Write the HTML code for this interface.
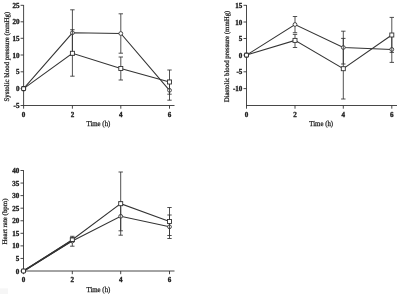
<!DOCTYPE html>
<html><head><meta charset="utf-8"><title>Blood pressure and heart rate</title>
<style>
html,body{margin:0;padding:0;background:#fff;}
svg{display:block;font-family:"Liberation Serif",serif;fill:#222;text-rendering:geometricPrecision;}
text{stroke:#222;stroke-width:0.26px;}
text.b{font-weight:bold;stroke-width:0.36px;}
</style></head><body>
<svg width="400" height="294" viewBox="0 0 400 294">
<rect width="400" height="294" fill="#fff"/>
<line x1="23.60" y1="5.00" x2="23.60" y2="105.90" stroke="#333" stroke-width="0.9"/>
<line x1="23.15" y1="105.50" x2="174.50" y2="105.50" stroke="#333" stroke-width="0.9"/>
<line x1="20.60" y1="5.30" x2="23.60" y2="5.30" stroke="#333" stroke-width="0.9"/>
<text transform="translate(19.50 7.90) scale(0.92 1)" text-anchor="end" font-size="7.7" class="b">25</text>
<line x1="20.60" y1="21.80" x2="23.60" y2="21.80" stroke="#333" stroke-width="0.9"/>
<text transform="translate(19.50 24.40) scale(0.92 1)" text-anchor="end" font-size="7.7" class="b">20</text>
<line x1="20.60" y1="38.30" x2="23.60" y2="38.30" stroke="#333" stroke-width="0.9"/>
<text transform="translate(19.50 40.90) scale(0.92 1)" text-anchor="end" font-size="7.7" class="b">15</text>
<line x1="20.60" y1="55.00" x2="23.60" y2="55.00" stroke="#333" stroke-width="0.9"/>
<text transform="translate(19.50 57.60) scale(0.92 1)" text-anchor="end" font-size="7.7" class="b">10</text>
<line x1="20.60" y1="71.80" x2="23.60" y2="71.80" stroke="#333" stroke-width="0.9"/>
<text transform="translate(19.50 74.40) scale(0.92 1)" text-anchor="end" font-size="7.7" class="b">5</text>
<line x1="20.60" y1="88.60" x2="23.60" y2="88.60" stroke="#333" stroke-width="0.9"/>
<text transform="translate(19.50 91.20) scale(0.92 1)" text-anchor="end" font-size="7.7" class="b">0</text>
<line x1="20.60" y1="105.50" x2="23.60" y2="105.50" stroke="#333" stroke-width="0.9"/>
<text transform="translate(19.50 108.10) scale(0.92 1)" text-anchor="end" font-size="7.7" class="b">-5</text>
<line x1="23.60" y1="105.50" x2="23.60" y2="108.70" stroke="#333" stroke-width="0.9"/>
<text transform="translate(23.60 116.80) scale(0.92 1)" text-anchor="middle" font-size="7.7" class="b">0</text>
<line x1="72.40" y1="105.50" x2="72.40" y2="108.70" stroke="#333" stroke-width="0.9"/>
<text transform="translate(72.40 116.80) scale(0.92 1)" text-anchor="middle" font-size="7.7" class="b">2</text>
<line x1="120.80" y1="105.50" x2="120.80" y2="108.70" stroke="#333" stroke-width="0.9"/>
<text transform="translate(120.80 116.80) scale(0.92 1)" text-anchor="middle" font-size="7.7" class="b">4</text>
<line x1="169.50" y1="105.50" x2="169.50" y2="108.70" stroke="#333" stroke-width="0.9"/>
<text transform="translate(169.50 116.80) scale(0.92 1)" text-anchor="middle" font-size="7.7" class="b">6</text>
<text transform="translate(98.40 126.10) scale(0.9 1)" text-anchor="middle" font-size="7.6">Time (h)</text>
<text transform="translate(8.60 56.65) rotate(-90) scale(1.0 1)" text-anchor="middle" font-size="6.9">Systolic blood pressure (mmHg)</text>
<path d="M23.60 88.60 L72.40 32.80 L120.80 33.50 L169.50 90.30" fill="none" stroke="#333" stroke-width="1.05"/>
<circle cx="23.60" cy="88.60" r="1.9" fill="#fff" stroke="#333" stroke-width="0.9"/>
<circle cx="72.40" cy="32.80" r="1.9" fill="#fff" stroke="#333" stroke-width="0.9"/>
<circle cx="120.80" cy="33.50" r="1.9" fill="#fff" stroke="#333" stroke-width="0.9"/>
<circle cx="169.50" cy="90.30" r="1.9" fill="#fff" stroke="#333" stroke-width="0.9"/>
<line x1="72.40" y1="9.80" x2="72.40" y2="30.80" stroke="#333" stroke-width="0.85"/>
<line x1="72.40" y1="34.80" x2="72.40" y2="55.20" stroke="#333" stroke-width="0.85"/>
<line x1="70.20" y1="9.80" x2="74.60" y2="9.80" stroke="#333" stroke-width="0.85"/>
<line x1="70.20" y1="55.20" x2="74.60" y2="55.20" stroke="#333" stroke-width="0.85"/>
<line x1="120.80" y1="13.80" x2="120.80" y2="31.50" stroke="#333" stroke-width="0.85"/>
<line x1="120.80" y1="35.50" x2="120.80" y2="53.20" stroke="#333" stroke-width="0.85"/>
<line x1="118.60" y1="13.80" x2="123.00" y2="13.80" stroke="#333" stroke-width="0.85"/>
<line x1="118.60" y1="53.20" x2="123.00" y2="53.20" stroke="#333" stroke-width="0.85"/>
<line x1="169.50" y1="80.30" x2="169.50" y2="88.30" stroke="#333" stroke-width="0.85"/>
<line x1="169.50" y1="92.30" x2="169.50" y2="100.20" stroke="#333" stroke-width="0.85"/>
<line x1="167.30" y1="80.30" x2="171.70" y2="80.30" stroke="#333" stroke-width="0.85"/>
<line x1="167.30" y1="100.20" x2="171.70" y2="100.20" stroke="#333" stroke-width="0.85"/>
<path d="M23.60 88.60 L72.40 53.30 L120.80 68.50 L169.50 82.00" fill="none" stroke="#333" stroke-width="1.05"/>
<rect x="21.60" y="86.60" width="4.0" height="4.0" rx="0.9" fill="#fff" stroke="#333" stroke-width="1.05"/>
<rect x="70.40" y="51.30" width="4.0" height="4.0" fill="#fff" stroke="#333" stroke-width="0.9"/>
<rect x="118.80" y="66.50" width="4.0" height="4.0" fill="#fff" stroke="#333" stroke-width="0.9"/>
<rect x="167.50" y="80.00" width="4.0" height="4.0" fill="#fff" stroke="#333" stroke-width="0.9"/>
<line x1="72.40" y1="29.70" x2="72.40" y2="51.30" stroke="#333" stroke-width="0.85"/>
<line x1="72.40" y1="55.30" x2="72.40" y2="76.20" stroke="#333" stroke-width="0.85"/>
<line x1="70.20" y1="29.70" x2="74.60" y2="29.70" stroke="#333" stroke-width="0.85"/>
<line x1="70.20" y1="76.20" x2="74.60" y2="76.20" stroke="#333" stroke-width="0.85"/>
<line x1="120.80" y1="57.00" x2="120.80" y2="66.50" stroke="#333" stroke-width="0.85"/>
<line x1="120.80" y1="70.50" x2="120.80" y2="80.00" stroke="#333" stroke-width="0.85"/>
<line x1="118.60" y1="57.00" x2="123.00" y2="57.00" stroke="#333" stroke-width="0.85"/>
<line x1="118.60" y1="80.00" x2="123.00" y2="80.00" stroke="#333" stroke-width="0.85"/>
<line x1="169.50" y1="70.00" x2="169.50" y2="80.00" stroke="#333" stroke-width="0.85"/>
<line x1="169.50" y1="84.00" x2="169.50" y2="94.20" stroke="#333" stroke-width="0.85"/>
<line x1="167.30" y1="70.00" x2="171.70" y2="70.00" stroke="#333" stroke-width="0.85"/>
<line x1="167.30" y1="94.20" x2="171.70" y2="94.20" stroke="#333" stroke-width="0.85"/>
<line x1="246.50" y1="5.00" x2="246.50" y2="105.90" stroke="#333" stroke-width="0.9"/>
<line x1="246.05" y1="105.50" x2="397.00" y2="105.50" stroke="#333" stroke-width="0.9"/>
<line x1="243.50" y1="5.30" x2="246.50" y2="5.30" stroke="#333" stroke-width="0.9"/>
<text transform="translate(242.40 7.90) scale(0.92 1)" text-anchor="end" font-size="7.7" class="b">15</text>
<line x1="243.50" y1="22.00" x2="246.50" y2="22.00" stroke="#333" stroke-width="0.9"/>
<text transform="translate(242.40 24.60) scale(0.92 1)" text-anchor="end" font-size="7.7" class="b">10</text>
<line x1="243.50" y1="38.50" x2="246.50" y2="38.50" stroke="#333" stroke-width="0.9"/>
<text transform="translate(242.40 41.10) scale(0.92 1)" text-anchor="end" font-size="7.7" class="b">5</text>
<line x1="243.50" y1="55.10" x2="246.50" y2="55.10" stroke="#333" stroke-width="0.9"/>
<text transform="translate(242.40 57.70) scale(0.92 1)" text-anchor="end" font-size="7.7" class="b">0</text>
<line x1="243.50" y1="71.80" x2="246.50" y2="71.80" stroke="#333" stroke-width="0.9"/>
<text transform="translate(242.40 74.40) scale(0.92 1)" text-anchor="end" font-size="7.7" class="b">-5</text>
<line x1="243.50" y1="88.60" x2="246.50" y2="88.60" stroke="#333" stroke-width="0.9"/>
<text transform="translate(242.40 91.20) scale(0.92 1)" text-anchor="end" font-size="7.7" class="b">-10</text>
<line x1="246.50" y1="105.50" x2="246.50" y2="108.70" stroke="#333" stroke-width="0.9"/>
<text transform="translate(246.50 116.80) scale(0.92 1)" text-anchor="middle" font-size="7.7" class="b">0</text>
<line x1="295.00" y1="105.50" x2="295.00" y2="108.70" stroke="#333" stroke-width="0.9"/>
<text transform="translate(295.00 116.80) scale(0.92 1)" text-anchor="middle" font-size="7.7" class="b">2</text>
<line x1="343.30" y1="105.50" x2="343.30" y2="108.70" stroke="#333" stroke-width="0.9"/>
<text transform="translate(343.30 116.80) scale(0.92 1)" text-anchor="middle" font-size="7.7" class="b">4</text>
<line x1="391.80" y1="105.50" x2="391.80" y2="108.70" stroke="#333" stroke-width="0.9"/>
<text transform="translate(391.80 116.80) scale(0.92 1)" text-anchor="middle" font-size="7.7" class="b">6</text>
<text transform="translate(321.20 126.10) scale(0.9 1)" text-anchor="middle" font-size="7.6">Time (h)</text>
<text transform="translate(229.20 56.50) rotate(-90) scale(0.9925 1)" text-anchor="middle" font-size="6.9">Diastolic blood pressure (mmHg)</text>
<path d="M246.50 55.10 L295.00 24.50 L343.30 47.50 L391.80 49.40" fill="none" stroke="#333" stroke-width="1.05"/>
<circle cx="246.50" cy="55.10" r="1.9" fill="#fff" stroke="#333" stroke-width="0.9"/>
<circle cx="295.00" cy="24.50" r="1.9" fill="#fff" stroke="#333" stroke-width="0.9"/>
<circle cx="343.30" cy="47.50" r="1.9" fill="#fff" stroke="#333" stroke-width="0.9"/>
<circle cx="391.80" cy="49.40" r="1.9" fill="#fff" stroke="#333" stroke-width="0.9"/>
<line x1="295.00" y1="16.50" x2="295.00" y2="22.50" stroke="#333" stroke-width="0.85"/>
<line x1="295.00" y1="26.50" x2="295.00" y2="32.70" stroke="#333" stroke-width="0.85"/>
<line x1="292.80" y1="16.50" x2="297.20" y2="16.50" stroke="#333" stroke-width="0.85"/>
<line x1="292.80" y1="32.70" x2="297.20" y2="32.70" stroke="#333" stroke-width="0.85"/>
<line x1="343.30" y1="31.20" x2="343.30" y2="45.50" stroke="#333" stroke-width="0.85"/>
<line x1="343.30" y1="49.50" x2="343.30" y2="64.00" stroke="#333" stroke-width="0.85"/>
<line x1="341.10" y1="31.20" x2="345.50" y2="31.20" stroke="#333" stroke-width="0.85"/>
<line x1="341.10" y1="64.00" x2="345.50" y2="64.00" stroke="#333" stroke-width="0.85"/>
<line x1="391.80" y1="36.40" x2="391.80" y2="47.40" stroke="#333" stroke-width="0.85"/>
<line x1="391.80" y1="51.40" x2="391.80" y2="62.40" stroke="#333" stroke-width="0.85"/>
<line x1="389.60" y1="36.40" x2="394.00" y2="36.40" stroke="#333" stroke-width="0.85"/>
<line x1="389.60" y1="62.40" x2="394.00" y2="62.40" stroke="#333" stroke-width="0.85"/>
<path d="M246.50 55.10 L295.00 40.40 L343.30 68.70 L391.80 35.00" fill="none" stroke="#333" stroke-width="1.05"/>
<rect x="244.50" y="53.10" width="4.0" height="4.0" rx="0.9" fill="#fff" stroke="#333" stroke-width="1.05"/>
<rect x="293.00" y="38.40" width="4.0" height="4.0" fill="#fff" stroke="#333" stroke-width="0.9"/>
<rect x="341.30" y="66.70" width="4.0" height="4.0" fill="#fff" stroke="#333" stroke-width="0.9"/>
<rect x="389.80" y="33.00" width="4.0" height="4.0" fill="#fff" stroke="#333" stroke-width="0.9"/>
<line x1="295.00" y1="34.40" x2="295.00" y2="38.40" stroke="#333" stroke-width="0.85"/>
<line x1="295.00" y1="42.40" x2="295.00" y2="47.50" stroke="#333" stroke-width="0.85"/>
<line x1="292.80" y1="34.40" x2="297.20" y2="34.40" stroke="#333" stroke-width="0.85"/>
<line x1="292.80" y1="47.50" x2="297.20" y2="47.50" stroke="#333" stroke-width="0.85"/>
<line x1="343.30" y1="38.40" x2="343.30" y2="66.70" stroke="#333" stroke-width="0.85"/>
<line x1="343.30" y1="70.70" x2="343.30" y2="99.00" stroke="#333" stroke-width="0.85"/>
<line x1="341.10" y1="38.40" x2="345.50" y2="38.40" stroke="#333" stroke-width="0.85"/>
<line x1="341.10" y1="99.00" x2="345.50" y2="99.00" stroke="#333" stroke-width="0.85"/>
<line x1="391.80" y1="17.40" x2="391.80" y2="33.00" stroke="#333" stroke-width="0.85"/>
<line x1="391.80" y1="37.00" x2="391.80" y2="52.40" stroke="#333" stroke-width="0.85"/>
<line x1="389.60" y1="17.40" x2="394.00" y2="17.40" stroke="#333" stroke-width="0.85"/>
<line x1="389.60" y1="52.40" x2="394.00" y2="52.40" stroke="#333" stroke-width="0.85"/>
<line x1="23.60" y1="271.00" x2="72.40" y2="240.35" stroke="#333" stroke-width="1.5"/>
<rect x="0" y="288.4" width="8" height="5.6" fill="#f6f6f6"/>
<line x1="23.50" y1="170.20" x2="23.50" y2="271.40" stroke="#333" stroke-width="0.9"/>
<line x1="23.05" y1="271.00" x2="174.50" y2="271.00" stroke="#333" stroke-width="0.9"/>
<line x1="20.50" y1="170.50" x2="23.50" y2="170.50" stroke="#333" stroke-width="0.9"/>
<text transform="translate(19.40 173.10) scale(0.92 1)" text-anchor="end" font-size="7.7" class="b">40</text>
<line x1="20.50" y1="183.06" x2="23.50" y2="183.06" stroke="#333" stroke-width="0.9"/>
<text transform="translate(19.40 185.66) scale(0.92 1)" text-anchor="end" font-size="7.7" class="b">35</text>
<line x1="20.50" y1="195.62" x2="23.50" y2="195.62" stroke="#333" stroke-width="0.9"/>
<text transform="translate(19.40 198.22) scale(0.92 1)" text-anchor="end" font-size="7.7" class="b">30</text>
<line x1="20.50" y1="208.19" x2="23.50" y2="208.19" stroke="#333" stroke-width="0.9"/>
<text transform="translate(19.40 210.79) scale(0.92 1)" text-anchor="end" font-size="7.7" class="b">25</text>
<line x1="20.50" y1="220.75" x2="23.50" y2="220.75" stroke="#333" stroke-width="0.9"/>
<text transform="translate(19.40 223.35) scale(0.92 1)" text-anchor="end" font-size="7.7" class="b">20</text>
<line x1="20.50" y1="233.31" x2="23.50" y2="233.31" stroke="#333" stroke-width="0.9"/>
<text transform="translate(19.40 235.91) scale(0.92 1)" text-anchor="end" font-size="7.7" class="b">15</text>
<line x1="20.50" y1="245.88" x2="23.50" y2="245.88" stroke="#333" stroke-width="0.9"/>
<text transform="translate(19.40 248.47) scale(0.92 1)" text-anchor="end" font-size="7.7" class="b">10</text>
<line x1="20.50" y1="258.44" x2="23.50" y2="258.44" stroke="#333" stroke-width="0.9"/>
<text transform="translate(19.40 261.04) scale(0.92 1)" text-anchor="end" font-size="7.7" class="b">5</text>
<line x1="20.50" y1="271.00" x2="23.50" y2="271.00" stroke="#333" stroke-width="0.9"/>
<text transform="translate(19.40 273.60) scale(0.92 1)" text-anchor="end" font-size="7.7" class="b">0</text>
<line x1="23.50" y1="271.00" x2="23.50" y2="274.20" stroke="#333" stroke-width="0.9"/>
<text transform="translate(23.50 282.00) scale(0.92 1)" text-anchor="middle" font-size="7.7" class="b">0</text>
<line x1="72.30" y1="271.00" x2="72.30" y2="274.20" stroke="#333" stroke-width="0.9"/>
<text transform="translate(72.30 282.00) scale(0.92 1)" text-anchor="middle" font-size="7.7" class="b">2</text>
<line x1="120.70" y1="271.00" x2="120.70" y2="274.20" stroke="#333" stroke-width="0.9"/>
<text transform="translate(120.70 282.00) scale(0.92 1)" text-anchor="middle" font-size="7.7" class="b">4</text>
<line x1="169.50" y1="271.00" x2="169.50" y2="274.20" stroke="#333" stroke-width="0.9"/>
<text transform="translate(169.50 282.00) scale(0.92 1)" text-anchor="middle" font-size="7.7" class="b">6</text>
<text transform="translate(98.40 291.70) scale(0.9 1)" text-anchor="middle" font-size="7.6">Time (h)</text>
<text transform="translate(6.80 221.50) rotate(-90) scale(1.0 1)" text-anchor="middle" font-size="6.9">Heart rate (bpm)</text>
<path d="M23.50 271.00 L72.30 241.00 L120.70 216.30 L169.50 226.80" fill="none" stroke="#333" stroke-width="1.05"/>
<circle cx="23.50" cy="271.00" r="1.9" fill="#fff" stroke="#333" stroke-width="0.9"/>
<circle cx="72.30" cy="241.00" r="1.9" fill="#fff" stroke="#333" stroke-width="0.9"/>
<circle cx="120.70" cy="216.30" r="1.9" fill="#fff" stroke="#333" stroke-width="0.9"/>
<circle cx="169.50" cy="226.80" r="1.9" fill="#fff" stroke="#333" stroke-width="0.9"/>
<line x1="72.30" y1="236.30" x2="72.30" y2="239.00" stroke="#333" stroke-width="0.85"/>
<line x1="72.30" y1="243.00" x2="72.30" y2="246.20" stroke="#333" stroke-width="0.85"/>
<line x1="70.10" y1="236.30" x2="74.50" y2="236.30" stroke="#333" stroke-width="0.85"/>
<line x1="70.10" y1="246.20" x2="74.50" y2="246.20" stroke="#333" stroke-width="0.85"/>
<line x1="120.70" y1="201.80" x2="120.70" y2="214.30" stroke="#333" stroke-width="0.85"/>
<line x1="120.70" y1="218.30" x2="120.70" y2="230.80" stroke="#333" stroke-width="0.85"/>
<line x1="118.50" y1="201.80" x2="122.90" y2="201.80" stroke="#333" stroke-width="0.85"/>
<line x1="118.50" y1="230.80" x2="122.90" y2="230.80" stroke="#333" stroke-width="0.85"/>
<line x1="169.50" y1="215.00" x2="169.50" y2="224.80" stroke="#333" stroke-width="0.85"/>
<line x1="169.50" y1="228.80" x2="169.50" y2="238.50" stroke="#333" stroke-width="0.85"/>
<line x1="167.30" y1="215.00" x2="171.70" y2="215.00" stroke="#333" stroke-width="0.85"/>
<line x1="167.30" y1="238.50" x2="171.70" y2="238.50" stroke="#333" stroke-width="0.85"/>
<path d="M23.50 271.00 L72.30 239.70 L120.70 203.70 L169.50 221.50" fill="none" stroke="#333" stroke-width="1.05"/>
<rect x="21.50" y="269.00" width="4.0" height="4.0" rx="0.9" fill="#fff" stroke="#333" stroke-width="1.05"/>
<rect x="70.30" y="237.70" width="4.0" height="4.0" fill="#fff" stroke="#333" stroke-width="0.9"/>
<rect x="118.70" y="201.70" width="4.0" height="4.0" fill="#fff" stroke="#333" stroke-width="0.9"/>
<rect x="167.50" y="219.50" width="4.0" height="4.0" fill="#fff" stroke="#333" stroke-width="0.9"/>
<line x1="70.10" y1="237.90" x2="74.50" y2="237.90" stroke="#333" stroke-width="0.85"/>
<line x1="70.10" y1="241.50" x2="74.50" y2="241.50" stroke="#333" stroke-width="0.85"/>
<line x1="120.70" y1="172.00" x2="120.70" y2="201.70" stroke="#333" stroke-width="0.85"/>
<line x1="120.70" y1="205.70" x2="120.70" y2="235.20" stroke="#333" stroke-width="0.85"/>
<line x1="118.50" y1="172.00" x2="122.90" y2="172.00" stroke="#333" stroke-width="0.85"/>
<line x1="118.50" y1="235.20" x2="122.90" y2="235.20" stroke="#333" stroke-width="0.85"/>
<line x1="169.50" y1="207.50" x2="169.50" y2="219.50" stroke="#333" stroke-width="0.85"/>
<line x1="169.50" y1="223.50" x2="169.50" y2="235.50" stroke="#333" stroke-width="0.85"/>
<line x1="167.30" y1="207.50" x2="171.70" y2="207.50" stroke="#333" stroke-width="0.85"/>
<line x1="167.30" y1="235.50" x2="171.70" y2="235.50" stroke="#333" stroke-width="0.85"/>
</svg>
</body></html>
